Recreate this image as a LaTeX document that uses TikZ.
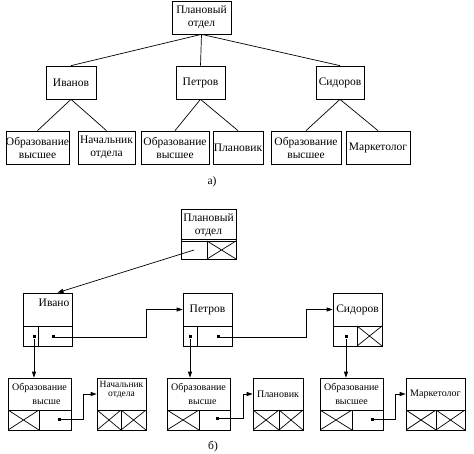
\documentclass[tikz,border=0pt]{standalone}
\usepackage{fontspec}
\setmainfont{Liberation Serif}
\usetikzlibrary{arrows.meta}
\tikzset{
	box/.style={draw, rectangle, inner sep=0pt, align=center, minimum height=33pt},
	cell/.style={draw, rectangle, inner sep=0pt, minimum height=20pt},
	xcell/.style={cell, path picture={
					\draw (path picture bounding box.south west) -- (path picture bounding box.north east)
					(path picture bounding box.north west) -- (path picture bounding box.south east);}},
	dot/.style={fill, rectangle, inner sep=0pt, minimum size=3pt},
	arr/.style={-{Triangle[length=6pt,width=4pt]}},
	big/.style={font=\fontsize{11.5}{13}\selectfont},
	small/.style={font=\fontsize{10}{14}\selectfont}
}
\begin{document}
\begin{tikzpicture}[x=1pt, y=-1pt, line width=0.7pt]
        \useasboundingbox (0,0) rectangle (474,454);

        % a) tree
        \node[box, big, minimum width=59pt] (plan) at (201.5,17.5) {Плановый\\отдел};
        \node[box, big, minimum width=50pt] (ivanov) at (71,82.5) {Иванов};
        \node[box, big, minimum width=49pt] (petrov) at (200.5,82.5) {Петров};
        \node[box, big, minimum width=48pt] (sidorov) at (340,82.5) {Сидоров};
        \node[box, big, minimum width=63pt] (obrA) at (37.5,147.5) {Образование\\высшее};
        \node[box, big, minimum width=57pt] (nach) at (106.5,147.5) {Начальник\\отдела};
        \node[box, big, minimum width=68pt] (obrB) at (175,147.5) {Образование\\высшее};
        \node[box, big, minimum width=50pt] (planovik) at (238,147.5) {Плановик};
        \node[box, big, minimum width=70pt] (obrC) at (306,147.5) {Образование\\высшее};
        \node[box, big, minimum width=64pt] (market) at (378,147.5) {Маркетолог};

        \draw (plan.south) -- (ivanov.north);
        \draw (plan.south) -- (petrov.north);
        \draw (plan.south) -- (sidorov.north);
        \draw (ivanov.south) -- (obrA.north);
        \draw (ivanov.south) -- (nach.north);
        \draw (petrov.south) -- (obrB.north);
        \draw (petrov.south) -- (planovik.north);
        \draw (sidorov.south) -- (obrC.north);
        \draw (sidorov.south) -- (market.north);

        \node[big] (capA) at (212,182) {а)};

        % b) linked records, top level
        \node[box, big, minimum width=55pt, minimum height=32pt] (planR) at (208.5,225) {Плановый\\отдел};
        \draw ([yshift=2pt]planR.south west) -- ([yshift=2pt]planR.south east);
        \node[cell, minimum width=26pt, minimum height=18pt] (planL) at (194,250) {};
        \node[xcell, minimum width=29pt, minimum height=18pt] (planX) at (221.5,250) {};

        % middle level
        \node[box, minimum width=49pt] (ivR) at (47.5,309.5) {};
        \node[big] (ivT) at (54,303) {Ивано};
        \node[cell, minimum width=15pt] (ivL) at (30.5,336) {};
        \node[cell, minimum width=34pt] (ivN) at (55,336) {};
        \node[dot] (ivLd) at (34,337) {};
        \node[dot] (ivNd) at (53,337) {};

        \node[box, big, minimum width=49pt] (peR) at (207.5,309.5) {Петров};
        \node[cell, minimum width=14pt] (peL) at (190,336) {};
        \node[cell, minimum width=35pt] (peN) at (214.5,336) {};
        \node[dot] (peLd) at (190,337) {};
        \node[dot] (peNd) at (218,337) {};

        \node[box, big, minimum width=49pt] (siR) at (357.5,309.5) {Сидоров};
        \node[cell, minimum width=24pt] (siL) at (345,336) {};
        \node[xcell, minimum width=25pt] (siN) at (369.5,336) {};
        \node[dot] (siLd) at (346,337) {};

        % bottom level
        \node[box, small, minimum width=63pt, minimum height=32pt] (obR1) at (39.5,394) {Образование\\\hspace*{14pt}высше};
        \node[xcell, minimum width=31pt] (obX1) at (23.5,420) {};
        \node[cell, minimum width=32pt] (obN1) at (55,420) {};
        \node[dot] (obd1) at (59,419) {};

        \node[box, minimum width=49pt, minimum height=32pt] (naR) at (121.5,394) {};
        \node[align=center, inner sep=0pt, font=\fontsize{9.5}{9}\selectfont] (naT) at (121.5,390) {Начальник\\отдела};
        \node[xcell, minimum width=24pt] (naX1) at (109,420) {};
        \node[xcell, minimum width=25pt] (naX2) at (133.5,420) {};

        \node[box, small, minimum width=63pt, minimum height=32pt] (obR2) at (198.5,394) {Образование\\\hspace*{8pt}высше};
        \node[xcell, minimum width=32pt] (obX2) at (183,420) {};
        \node[cell, minimum width=31pt] (obN2) at (214.5,420) {};
        \node[dot] (obd2) at (217,418) {};

        \node[box, small, minimum width=50pt, minimum height=32pt] (pvR) at (278,394) {Плановик};
        \node[xcell, minimum width=26pt] (pvX1) at (266,420) {};
        \node[xcell, minimum width=24pt] (pvX2) at (291,420) {};

        \node[box, small, minimum width=63pt, minimum height=32pt] (obR3) at (351.5,394) {Образование\\высшее};
        \node[xcell, minimum width=32pt] (obX3) at (336,420) {};
        \node[cell, minimum width=31pt] (obN3) at (367.5,420) {};
        \node[dot] (obd3) at (372,419) {};

        \node[box, small, minimum width=59pt, minimum height=32pt] (mkR) at (435.5,394) {Маркетолог};
        \node[xcell, minimum width=30pt] (mkX1) at (421,420) {};
        \node[xcell, minimum width=29pt] (mkX2) at (450.5,420) {};

        % pointers
        \coordinate (k1) at (146,337);
        \coordinate (k2) at (306,337);
        \coordinate (k3) at (83,419);
        \coordinate (k4) at (243,418);
        \coordinate (k5) at (395,419);
        \draw[arr] (planL.center) -- ([xshift=10pt]ivR.north);
        \draw[arr] (ivNd) -- (k1) |- (peR.west);
        \draw[arr] (peNd) -- (k2) |- (siR.west);
        \draw[arr] (ivLd) -- (ivLd |- obR1.north);
        \draw[arr] (peLd) -- (peLd |- obR2.north);
        \draw[arr] (siLd) -- (siLd |- obR3.north);
        \draw[arr] (obd1) -- (k3) |- (naR.west);
        \draw[arr] (obd2) -- (k4) |- (pvR.west);
        \draw[arr] (obd3) -- (k5) |- (mkR.west);

        \node[big] (capB) at (213,447) {б)};
    \end{tikzpicture}
\end{document}
